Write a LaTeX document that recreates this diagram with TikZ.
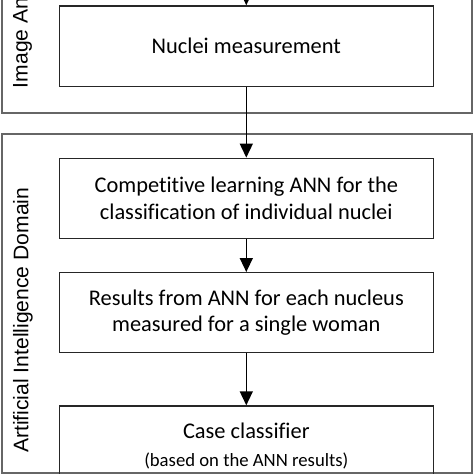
\documentclass[tikz,border=0pt]{standalone}
\usepackage{fontspec}
\setmainfont[Ligatures=CommonOff]{Carlito}
\newfontfamily\sidefont{Liberation Sans}
\usetikzlibrary{arrows.meta}
\begin{document}
\begin{tikzpicture}[x=1pt,y=-1pt,
  stagebox/.style={draw=black!85,line width=1.4pt,minimum width=374pt,inner sep=0pt,align=center,
    font=\fontsize{22.4pt}{26.7pt}\selectfont},
  framebox/.style={draw=black!60,line width=2pt},
  flow/.style={draw=black,line width=1.5pt,-{Triangle[length=14pt,width=13pt]}},
  sidelabel/.style={rotate=90,anchor=base west,inner sep=0pt,font=\sidefont\fontsize{21.1pt}{24pt}\selectfont},
  plain/.style={inner sep=0pt,anchor=base,font=\fontsize{22.4pt}{26.7pt}\selectfont}]
\clip (0,0) rectangle (474,474);
\fill[white] (0,0) rectangle (474,474);
% frames
\draw[framebox] (1.5,-20) rectangle (472,112.7);
\draw[framebox] (1.5,134) rectangle (472,473);
\node[sidelabel] (lab1) at (27.5,88.3) {Image Analysis};
\node[sidelabel] (lab2) at (28.3,453) {Artificial Intelligence Domain};
% boxes
\node[stagebox,minimum height=80.7pt] (b1) at (246.3,46.3) {Nuclei measurement};
\node[stagebox,minimum height=80pt] (b2) at (246.3,198.3) {Competitive learning ANN for the\\classification of individual nuclei};
\node[stagebox,minimum height=80pt] (b3) at (246.3,312.7) {Results from ANN for each nucleus\\measured for a single woman};
\node[stagebox,minimum height=80pt] (b4) at (246.3,446) {};
\node[plain] (t4a) at (246.3,438.3) {Case classifier};
\node[plain,font=\fontsize{18.7pt}{22pt}\selectfont] (t4b) at (246.3,466.7) {(based on the ANN results)};
% arrows
\coordinate (top) at (246.3,-10);
\draw[flow] (top) -- (b1.north);
\draw[flow] (b1.south) -- (b2.north);
\draw[flow] (b2.south) -- (b3.north);
\draw[flow] (b3.south) -- (b4.north);
\end{tikzpicture}
\end{document}
